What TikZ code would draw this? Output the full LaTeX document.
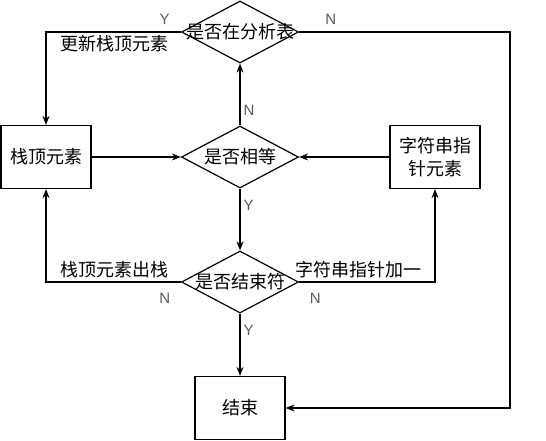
\documentclass[tikz,border=0pt]{standalone}
\usepackage{fontspec}
\setsansfont{Liberation Sans}
\newfontfamily\cjk{Noto Sans CJK SC}
\usetikzlibrary{arrows.meta,positioning,shapes.geometric}

\tikzset{
  box/.style={draw,line width=1.2pt,minimum width=90pt,minimum height=63pt,
    inner sep=2pt,align=center,font=\cjk\fontsize{18pt}{23pt}\selectfont},
  decision/.style={draw,diamond,line width=1.2pt,minimum width=117pt,
    minimum height=62pt,inner sep=0pt,font=\cjk\fontsize{18pt}{20pt}\selectfont},
  yn/.style={font=\sffamily\fontsize{15pt}{15pt}\selectfont,text=black!65,inner sep=3pt},
  note/.style={font=\cjk\fontsize{18pt}{20pt}\selectfont,inner sep=3pt},
}

\begin{document}
\begin{tikzpicture}[x=1pt,y=1pt,node distance=125pt,on grid,
    line width=1.2pt,>={Stealth[length=9pt,width=7pt]}]
   \useasboundingbox (0,0) rectangle (546,-440);
   \node[decision] (eq) at (240,-157) {\makebox[0pt]{是否相等}};
   \node[decision] (q1) [above=of eq] {\makebox[0pt]{是否在分析表}};
   \node[decision] (q3) [below=of eq] {\makebox[0pt]{是否结束符}};
   \node[box] (top) [left=194pt of eq] {栈顶元素};
   \node[box] (ptr) [right=195pt of eq] {字符串指\\针元素};
   \node[box] (stop) [below=126pt of q3] {结束};
   \coordinate[right=270pt of stop] (rim);
   \draw[->] (q1.west) -| node[yn,pos=0.06,above=4pt] {Y}
                          node[note,pos=0.245,below] {更新栈顶元素} (top.north);
   \draw[->] (q1.east) -| node[yn,pos=0.075,above=4pt] {N} (rim) -- (stop.east);
   \draw[->] (top) -- (eq);
   \draw[->] (ptr) -- (eq);
   \draw[->] (eq) -- node[yn,pos=0.25,right] {N} (q1);
   \draw[->] (eq) -- node[yn,pos=0.27,right] {Y} (q3);
   \draw[->] (q3.west) -| node[note,pos=0.245,above] {栈顶元素出栈}
                          node[yn,pos=0.06,below=8pt] {N} (top.south);
   \draw[->] (q3.east) -| node[note,pos=0.22,above] {字符串指针加一}
                          node[yn,pos=0.06,below=8pt] {N} (ptr.south);
   \draw[->] (q3) -- node[yn,pos=0.27,right] {Y} (stop);
\end{tikzpicture}
\end{document}
